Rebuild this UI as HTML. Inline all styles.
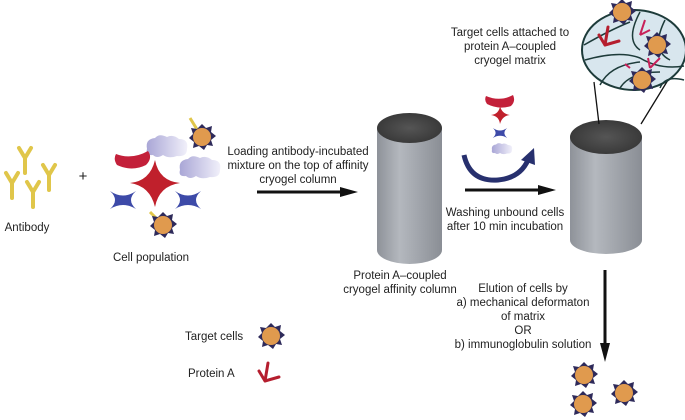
<!DOCTYPE html>
<html><head><meta charset="utf-8"><style>
html,body{margin:0;padding:0;background:#fff;}
svg{display:block;}
text{font-family:"Liberation Sans",sans-serif;font-size:11.5px;fill:#222;}
</style></head><body>
<svg width="685" height="420" viewBox="0 0 685 420" xmlns="http://www.w3.org/2000/svg">
<defs>
<linearGradient id="col" x1="0" x2="1" y1="0" y2="0">
<stop offset="0" stop-color="#8e9299"/><stop offset="0.35" stop-color="#b4b8be"/><stop offset="1" stop-color="#8a8e95"/>
</linearGradient>
<radialGradient id="top"><stop offset="0" stop-color="#555"/><stop offset="1" stop-color="#3a3a3a"/></radialGradient>
<linearGradient id="cloud" x1="0" x2="1"><stop offset="0" stop-color="#a9a6d6"/><stop offset="1" stop-color="#f1f0fa"/></linearGradient>
<g id="cell">
<polygon points="0,-13 4,-9 10,-11 9,-5 14,-1 9,3 11,9 5,8 2,13 -3,9 -9,11 -8,5 -13,1 -9,-3 -11,-9 -5,-8" fill="#2e2a5a"/>
<circle r="9" fill="#e09a4e"/>
</g>
<g id="Y"><path d="M0,15 L0,0 L-6,-10 M0,0 L6,-10" stroke="#e0c64a" stroke-width="4" fill="none" stroke-linecap="round"/></g>
<g id="X"><path d="M-13,-9 Q0,0 13,-9 Q3,0 13,9 Q0,1 -13,9 Q-3,0 -13,-9Z" fill="#3d4aa8"/></g>
<g id="cl"><path d="M-20,2 Q-22,-8 -12,-9 Q-8,-14 0,-10 Q6,-13 12,-8 Q22,-8 20,2 Q20,10 10,9 Q2,12 -4,8 Q-10,12 -14,8 Q-22,9 -20,2Z" fill="url(#cloud)"/></g>
<g id="pa"><path d="M0,0 L-6,-10 M0,0 L3,-18 M0,0 L14,-4" stroke="#b51e2e" stroke-width="3" stroke-linecap="round" fill="none"/></g>
</defs>

<!-- antibodies -->
<use href="#Y" x="25" y="158"/><use href="#Y" x="12" y="183"/><use href="#Y" x="33" y="192"/><use href="#Y" x="49" y="175"/>
<text x="27" y="231" text-anchor="middle">Antibody</text>
<text x="83" y="181" text-anchor="middle" style="font-size:15px">+</text>

<!-- cell population -->
<path d="M190,118 L198,131" stroke="#e0c64a" stroke-width="3"/><use href="#cell" x="202" y="137"/>
<use href="#cl" x="167" y="147"/><use href="#cl" x="200" y="168"/>
<path d="M116,154 Q132,160 148,151 Q153,158 146,165 Q132,172 117,165 Q113,159 116,154Z" fill="#c3203a"/>
<path d="M130,183 Q150,181 155,160 Q159,181 180,183 Q159,186 155,207 Q150,186 130,183Z" fill="#c0202c"/>
<use href="#X" x="123" y="200"/><use href="#X" x="188" y="200"/>
<path d="M150,212 L158,220" stroke="#e0c64a" stroke-width="3"/><use href="#cell" x="163" y="225"/>
<text x="151" y="261" text-anchor="middle">Cell population</text>

<!-- loading text & arrow -->
<text x="298" y="155" text-anchor="middle">Loading antibody-incubated</text>
<text x="298" y="169" text-anchor="middle">mixture on the top of affinity</text>
<text x="298" y="183" text-anchor="middle">cryogel column</text>
<path d="M257,192 L342,192" stroke="#111" stroke-width="3"/><polygon points="340,187 358,192 340,197" fill="#111"/>

<!-- column 1 -->
<path d="M377,128 L377,250 A32.5,14 0 0 0 442,250 L442,128Z" fill="url(#col)"/>
<ellipse cx="409.5" cy="128" rx="32.5" ry="15" fill="url(#top)"/>
<text x="400" y="279" text-anchor="middle">Protein A–coupled</text>
<text x="400" y="293" text-anchor="middle">cryogel affinity column</text>

<!-- washed items -->
<path d="M486,96 Q500,102 513,95 Q516,101 511,106 Q499,110 487,104 Q484,100 486,96Z" fill="#c3203a"/>
<path d="M491,115 Q499,114 500,106 Q502,114 510,115 Q502,116 500,124 Q499,116 491,115Z" fill="#c0202c"/>
<g transform="translate(500,133) scale(0.55)"><use href="#X"/></g>
<g transform="translate(502,149) scale(0.5)"><use href="#cl"/></g>
<path d="M464,155 Q470,182 498,180 Q520,178 528,160" stroke="#27306e" stroke-width="5" fill="none"/>
<polygon points="521,160 534,148 535,165" fill="#27306e"/>
<path d="M465,190 L540,190" stroke="#111" stroke-width="3"/><polygon points="538,185 556,190 538,195" fill="#111"/>
<text x="505" y="216" text-anchor="middle">Washing unbound cells</text>
<text x="505" y="230" text-anchor="middle">after 10 min incubation</text>

<!-- column 2 -->
<path d="M570,137 L570,240 A36,14 0 0 0 642,240 L642,137Z" fill="url(#col)"/>
<ellipse cx="606" cy="137" rx="36" ry="17" fill="url(#top)"/>

<!-- zoom lines & circle -->
<path d="M594,82 L599,124 M668,80 L641,124" stroke="#111" stroke-width="1.3"/>
<ellipse cx="634" cy="50" rx="52" ry="40" fill="#d8e6ee" stroke="#1d3b3a" stroke-width="2"/>
<path d="M584,45 Q610,30 630,22 M585,60 Q620,50 640,58 Q660,70 684,66 M600,85 Q610,65 640,62 M620,88 Q630,72 660,72 M640,12 Q625,40 640,50 M665,20 Q650,50 670,60 M660,88 Q665,75 684,80" stroke="#1d3b3a" stroke-width="1.5" fill="none"/>
<use href="#pa" x="605" y="45"/>
<path d="M640,35 L645,20 M640,35 L650,30" stroke="#c8205a" stroke-width="2"/>
<path d="M650,68 L660,58 M650,68 L648,58" stroke="#c8205a" stroke-width="2"/>
<path d="M630,68 L625,64" stroke="#c8205a" stroke-width="2"/>
<use href="#cell" x="622" y="12"/>
<use href="#cell" x="657" y="45"/>
<use href="#cell" x="642" y="80"/>
<text x="510" y="36" text-anchor="middle">Target cells attached to</text>
<text x="510" y="50" text-anchor="middle">protein A–coupled</text>
<text x="510" y="64" text-anchor="middle">cryogel matrix</text>

<!-- elution -->
<path d="M605,270 L605,345" stroke="#111" stroke-width="3"/><polygon points="600,343 605,362 610,343" fill="#111"/>
<text x="523" y="292" text-anchor="middle">Elution of cells by</text>
<text x="523" y="306" text-anchor="middle">a) mechanical deformaton</text>
<text x="523" y="320" text-anchor="middle">of matrix</text>
<text x="523" y="334" text-anchor="middle">OR</text>
<text x="523" y="348" text-anchor="middle">b) immunoglobulin solution</text>
<use href="#cell" x="584" y="375"/><use href="#cell" x="624" y="393"/><use href="#cell" x="583" y="404"/>

<!-- legend -->
<text x="185" y="340">Target cells</text>
<use href="#cell" x="271" y="336"/>
<text x="188" y="377">Protein A</text>
<use href="#pa" x="265" y="381"/>
</svg>
</body></html>
